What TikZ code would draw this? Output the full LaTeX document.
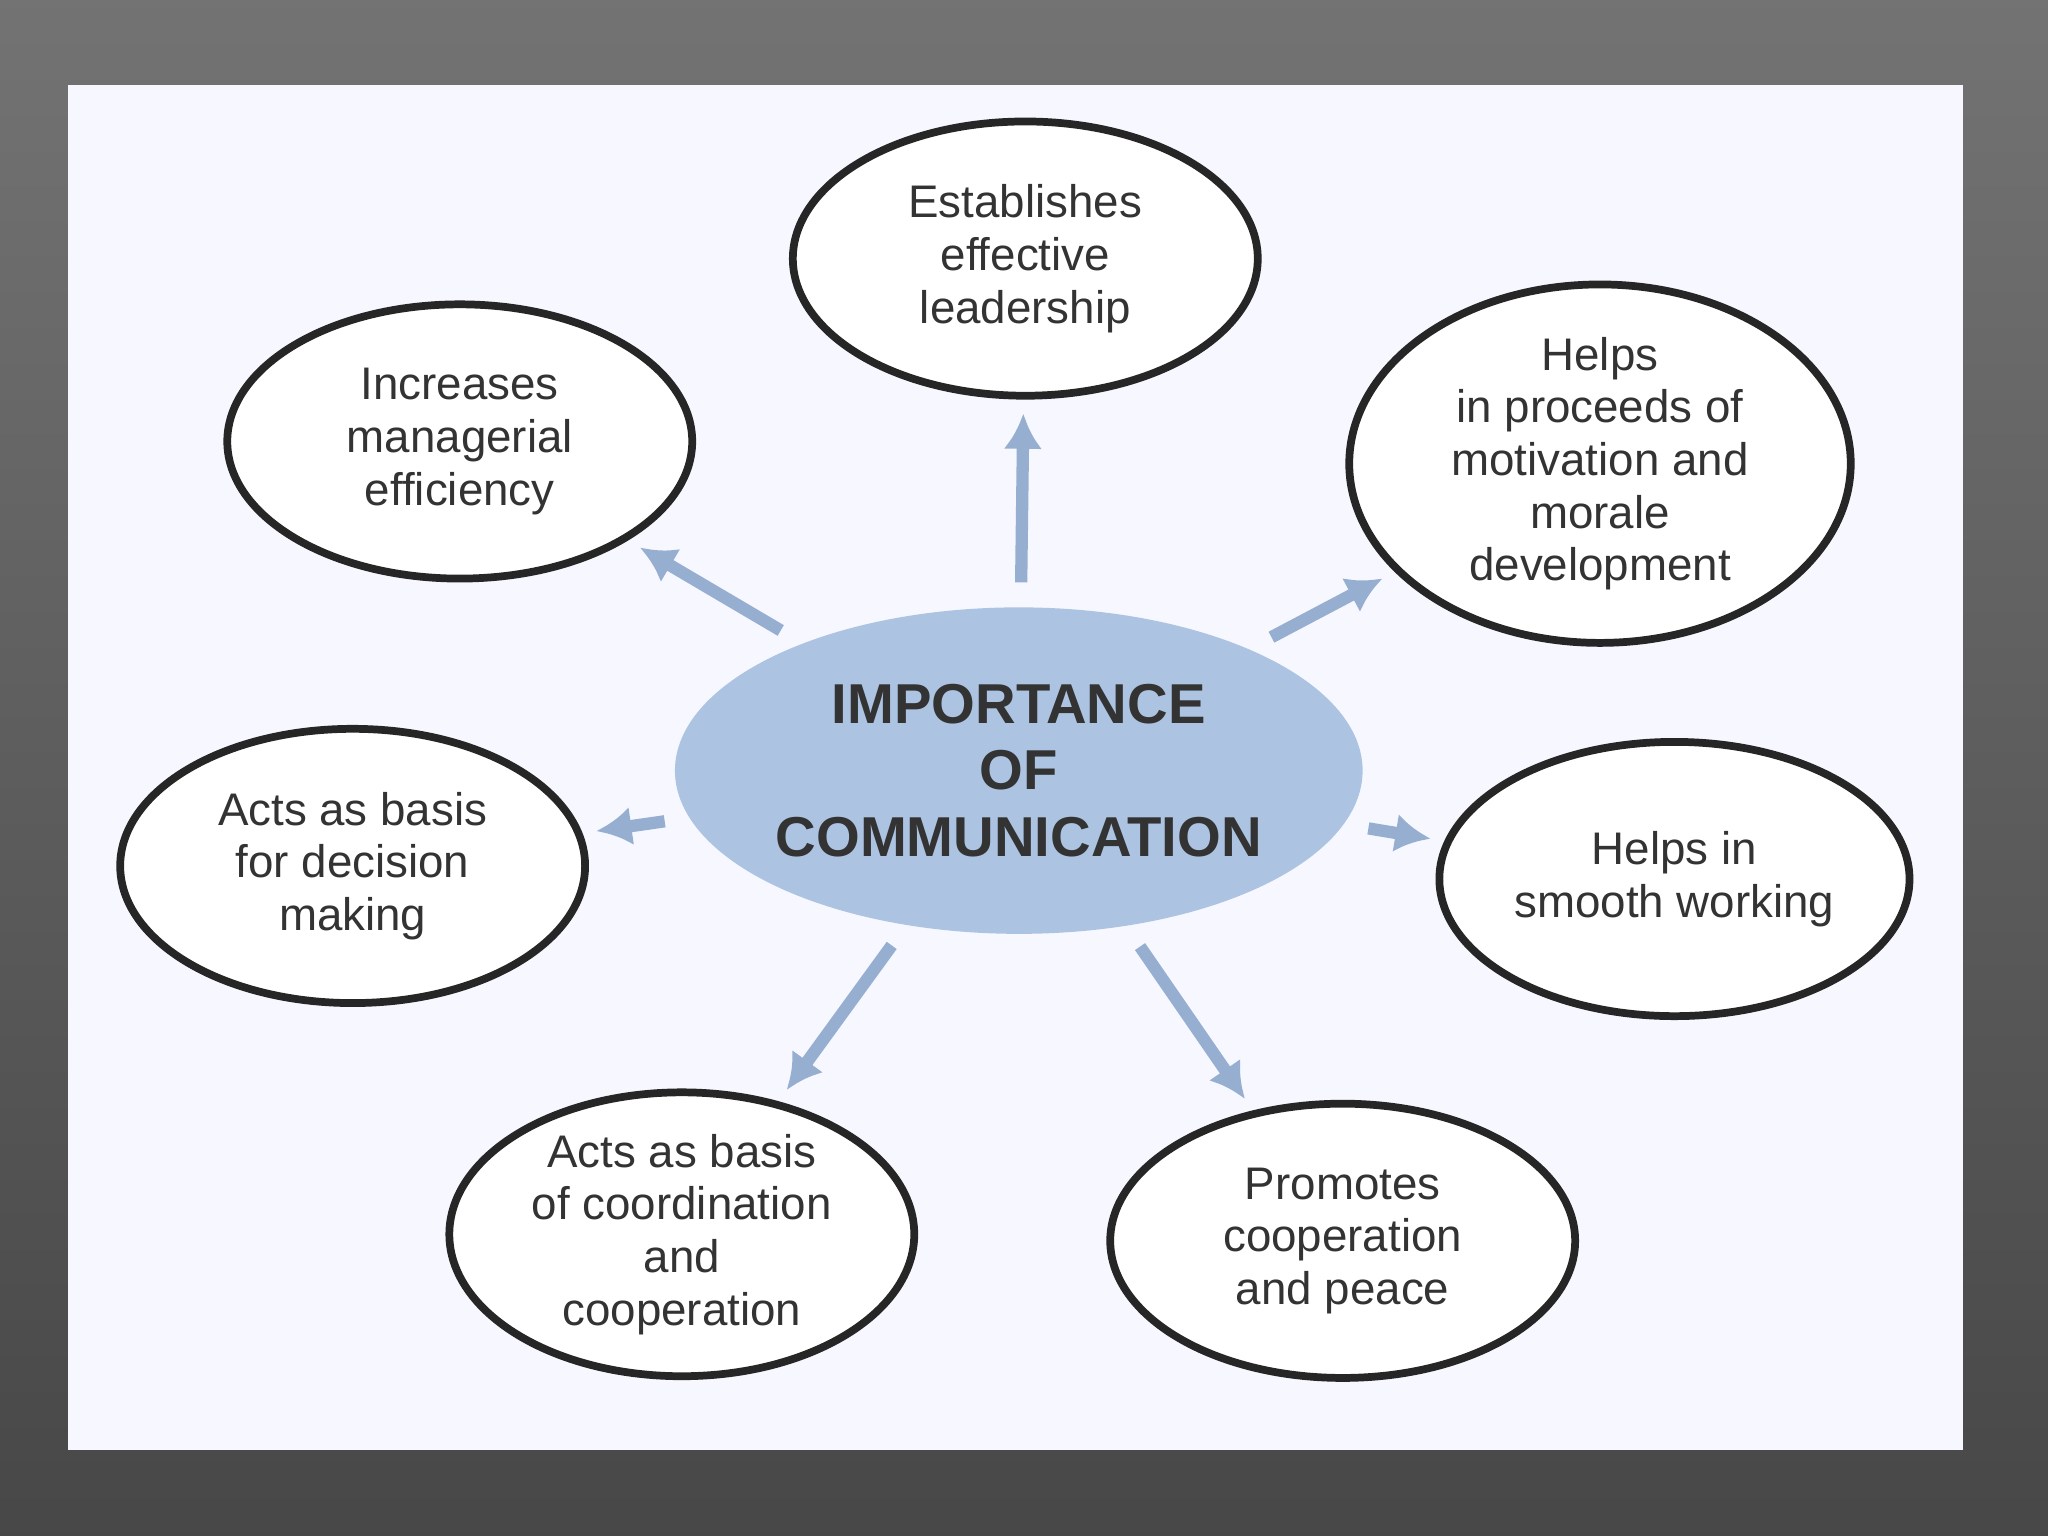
\documentclass[tikz,border=0pt]{standalone}
\usepackage{fontspec}
\setmainfont{Liberation Sans}
\usetikzlibrary{shapes.geometric,arrows.meta}
\definecolor{cfill}{RGB}{172,196,226}
\definecolor{arrc}{RGB}{150,175,208}
\begin{document}
\begin{tikzpicture}[x=0.013061cm,y=-0.013061cm,
  bub/.style={ellipse,draw=black!85,line width=2.2pt,fill=white,align=center,font=\fontsize{13}{15}\selectfont,text=black!80,inner sep=0pt},
  arr/.style={-{Latex[length=10pt,width=11pt]},line width=3.5pt,draw=arrc,shorten <=6pt,shorten >=4pt}]
\useasboundingbox (0,0) rectangle (1568,1176);
\shade[top color=black!55,bottom color=black!72] (0,0) rectangle (1568,1176);
\fill[blue!3] (52,65) rectangle (1503,1110);
\node[bub,fill=cfill,draw=none,minimum width={430*0.3716pt},minimum height={250*0.3716pt},font=\bfseries\fontsize{16}{19}\selectfont] (c) at (780,590) {IMPORTANCE\\OF\\COMMUNICATION};
\node[bub,minimum width={356*0.3716pt},minimum height={210*0.3716pt}] (a) at (785,198) {Establishes\\effective\\leadership};
\node[bub,minimum width={356*0.3716pt},minimum height={210*0.3716pt}] (b) at (352,338) {Increases\\managerial\\efficiency};
\node[bub,minimum width={384*0.3716pt},minimum height={222*0.3716pt}] (d) at (1225,355) {Helps\\in proceeds of\\motivation and\\morale\\development};
\node[bub,minimum width={356*0.3716pt},minimum height={210*0.3716pt}] (e) at (270,663) {Acts as basis\\for decision\\making};
\node[bub,minimum width={360*0.3716pt},minimum height={210*0.3716pt}] (f) at (1282,673) {Helps in\\smooth working};
\node[bub,minimum width={356*0.3716pt},minimum height={216*0.3716pt}] (g) at (522,945) {Acts as basis\\of coordination\\and\\cooperation};
\node[bub,minimum width={356*0.3716pt},minimum height={210*0.3716pt}] (h) at (1028,950) {Promotes\\cooperation\\and peace};
\foreach \t in {a,b,d,e,f,g,h} \draw[arr] (c) -- (\t);
\end{tikzpicture}
\end{document}
